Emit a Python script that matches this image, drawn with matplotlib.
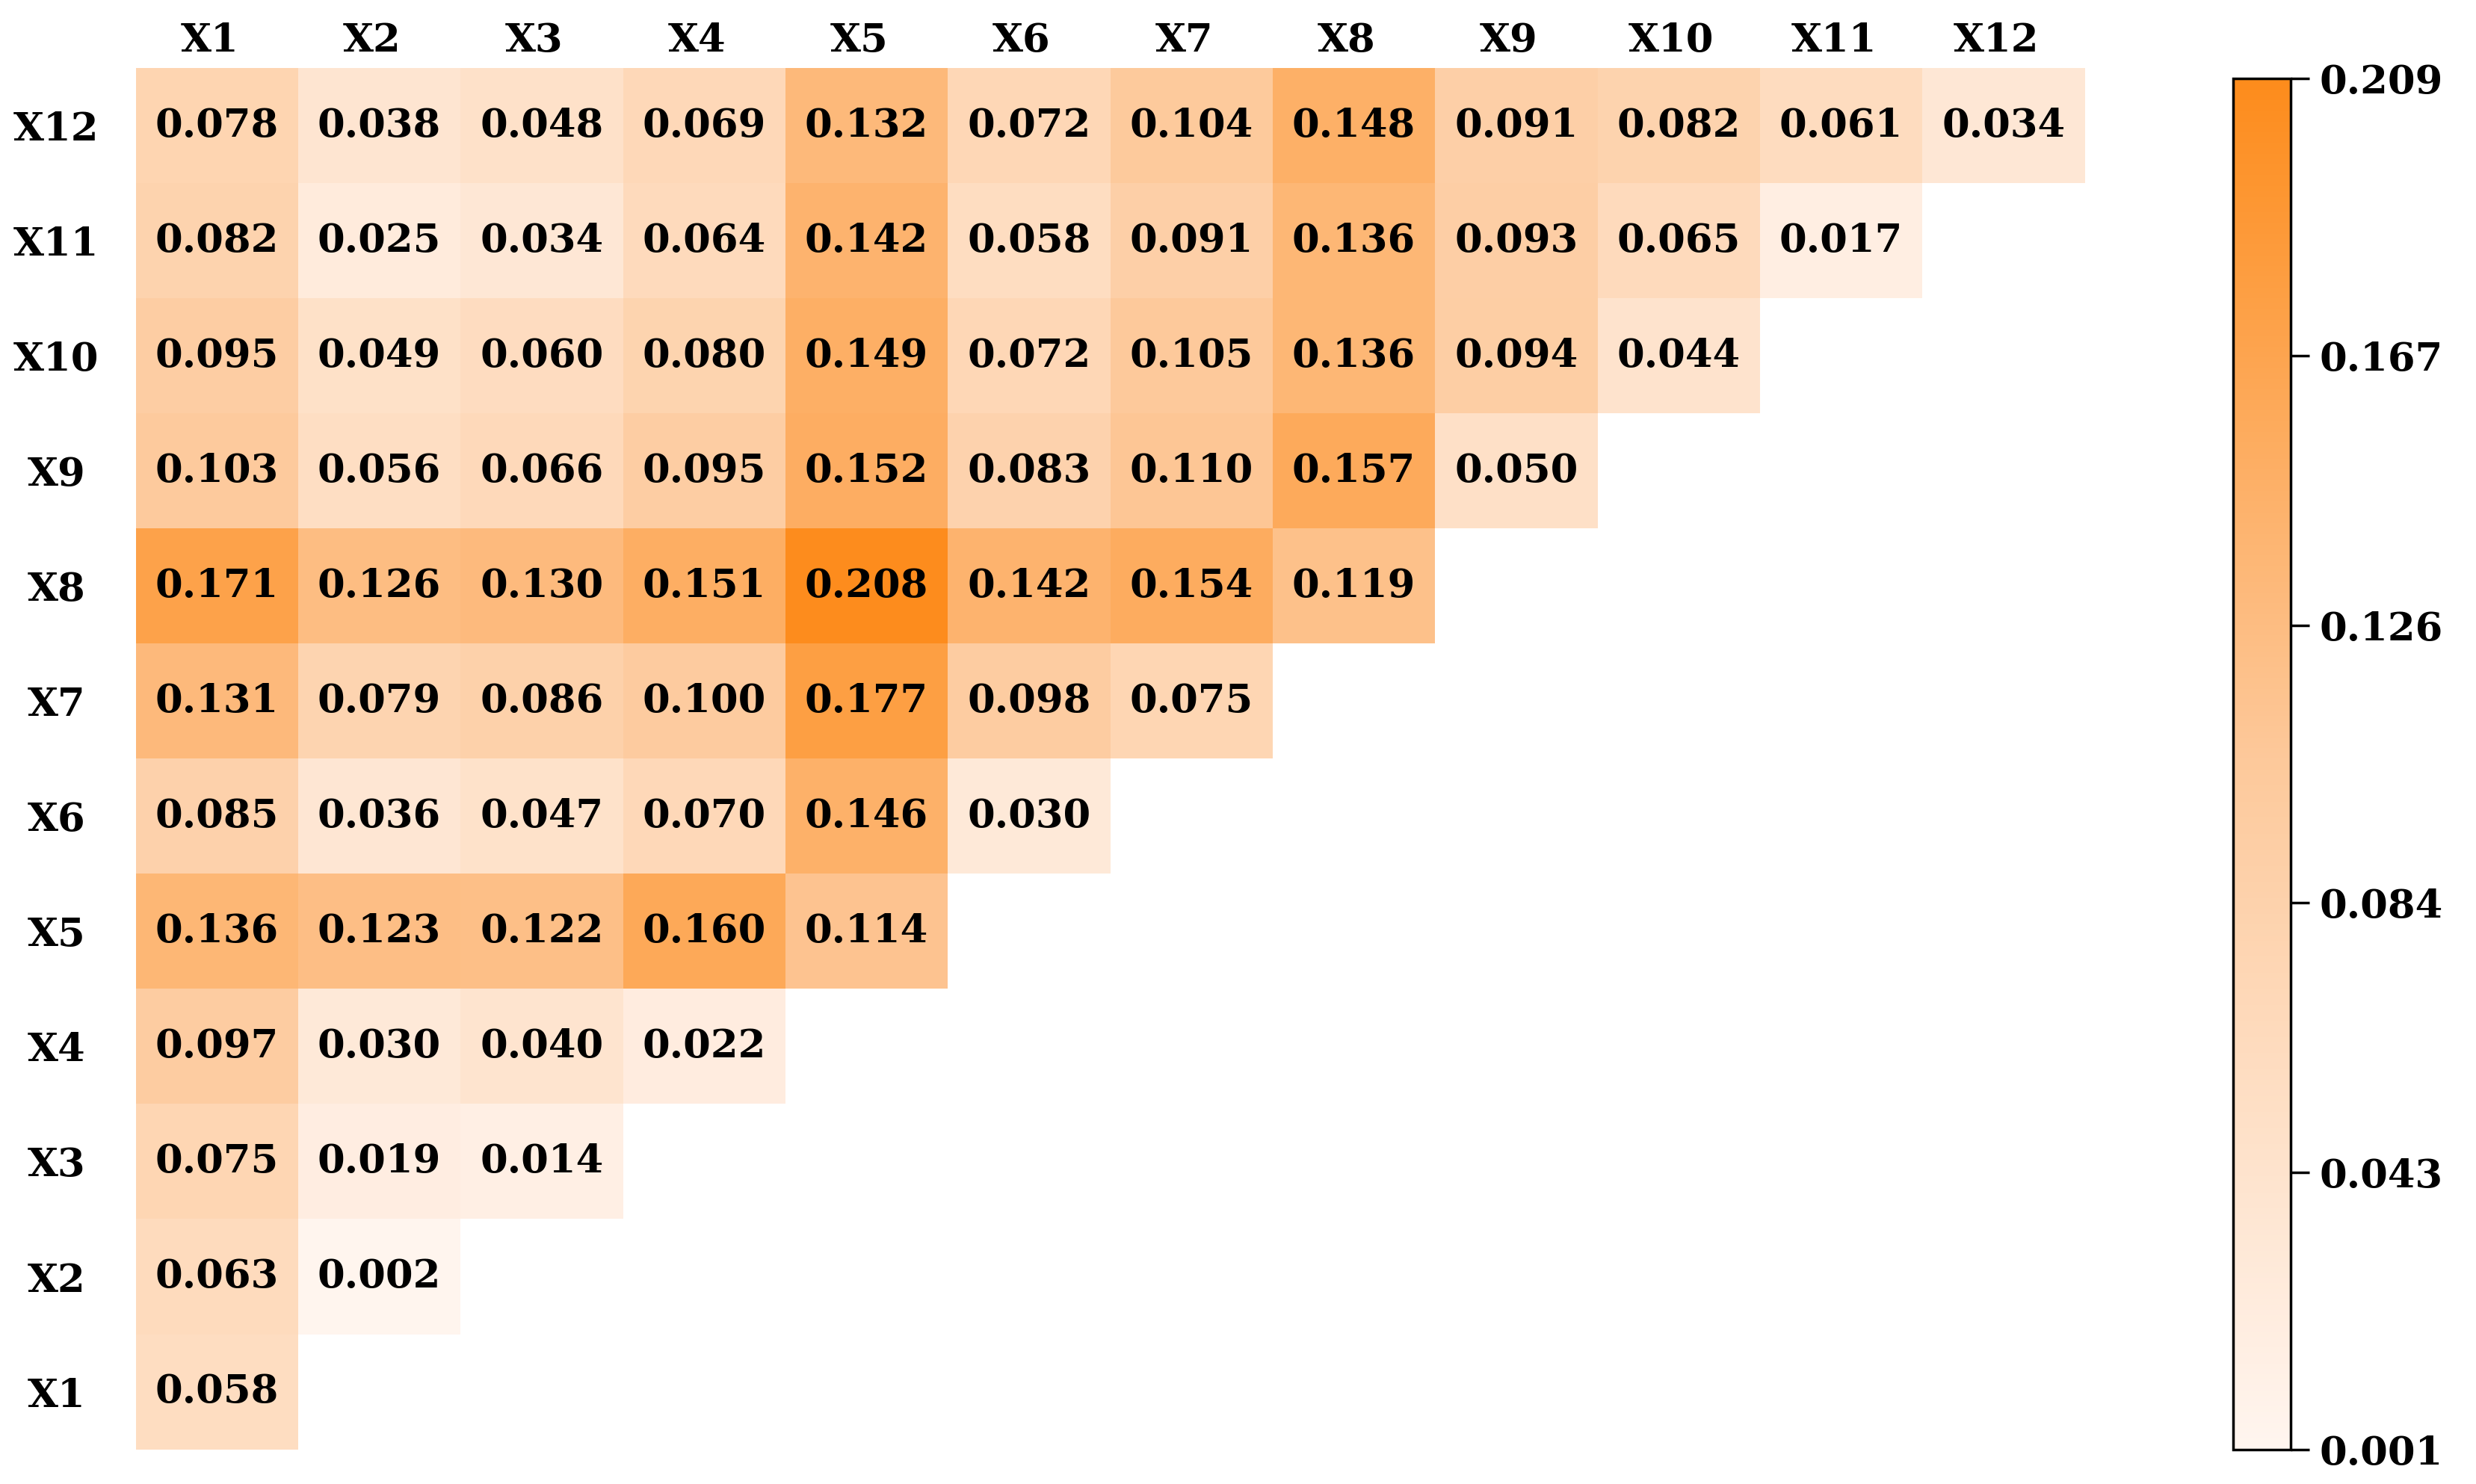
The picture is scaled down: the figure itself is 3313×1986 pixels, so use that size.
import numpy as np
import matplotlib
matplotlib.use("Agg")
import matplotlib.pyplot as plt
import matplotlib.transforms as mtrans
from matplotlib.colors import LinearSegmentedColormap

LABELS = [f"X{i}" for i in range(1, 13)]

# rows X1..X12, each row holds values for columns X1..Xi
ROWS = [
    [0.058],
    [0.063, 0.002],
    [0.075, 0.019, 0.014],
    [0.097, 0.030, 0.040, 0.022],
    [0.136, 0.123, 0.122, 0.160, 0.114],
    [0.085, 0.036, 0.047, 0.070, 0.146, 0.030],
    [0.131, 0.079, 0.086, 0.100, 0.177, 0.098, 0.075],
    [0.171, 0.126, 0.130, 0.151, 0.208, 0.142, 0.154, 0.119],
    [0.103, 0.056, 0.066, 0.095, 0.152, 0.083, 0.110, 0.157, 0.050],
    [0.095, 0.049, 0.060, 0.080, 0.149, 0.072, 0.105, 0.136, 0.094, 0.044],
    [0.082, 0.025, 0.034, 0.064, 0.142, 0.058, 0.091, 0.136, 0.093, 0.065, 0.017],
    [0.078, 0.038, 0.048, 0.069, 0.132, 0.072, 0.104, 0.148, 0.091, 0.082, 0.061, 0.034],
]
CBAR_TICKS = [0.001, 0.043, 0.084, 0.126, 0.167, 0.209]
VMIN, VMAX = 0.001, 0.209

plt.rcParams["font.family"] = ["DejaVu Serif"]
plt.rcParams["font.weight"] = "bold"

n = len(LABELS)
mat = np.full((n, n), np.nan)
for i, row in enumerate(ROWS):
    mat[i, :len(row)] = row

cmap = LinearSegmentedColormap.from_list("wo", ["#fff5ef", "#fdc99b", "#fd8c1c"])

fig = plt.figure(figsize=(33.13, 19.86), dpi=100)
ax = fig.add_axes([0.0548, 0.0234, 0.7872, 0.9306])
im = ax.pcolormesh(np.arange(n + 1), np.arange(n + 1), mat, cmap=cmap,
                   vmin=VMIN, vmax=VMAX)
for i, row in enumerate(ROWS):
    for j, v in enumerate(row):
        ax.text(j + 0.5, i + 0.5, f"{v:.3f}", ha="center", va="center",
                fontsize=38, fontweight="bold")

ax.set_xlim(0, n)
ax.set_ylim(0, n)
ax.set_xticks(np.arange(n) + 0.5)
ax.set_xticklabels(LABELS)
ax.set_yticks(np.arange(n) + 0.5)
ax.set_yticklabels(LABELS)
ax.xaxis.tick_top()
ax.tick_params(length=0, labelsize=38, pad=8)
for s in ax.spines.values():
    s.set_visible(False)
off = mtrans.ScaledTranslation(-0.1, 0, fig.dpi_scale_trans)
for t in ax.get_xticklabels():
    t.set_transform(t.get_transform() + off)
for t in ax.get_yticklabels():
    t.set_ha("center")
    t.set_transform(t.get_transform() + mtrans.ScaledTranslation(-0.95, 0, fig.dpi_scale_trans))

cax = fig.add_axes([0.902, 0.0234, 0.023, 0.9236])
cb = fig.colorbar(im, cax=cax)
cb.set_ticks(CBAR_TICKS)
cb.set_ticklabels([f"{t:.3f}" for t in CBAR_TICKS])
cb.outline.set_linewidth(2.5)
cax.tick_params(labelsize=38, length=18, width=2.5, pad=10)

fig.savefig("out.png", dpi=100)
